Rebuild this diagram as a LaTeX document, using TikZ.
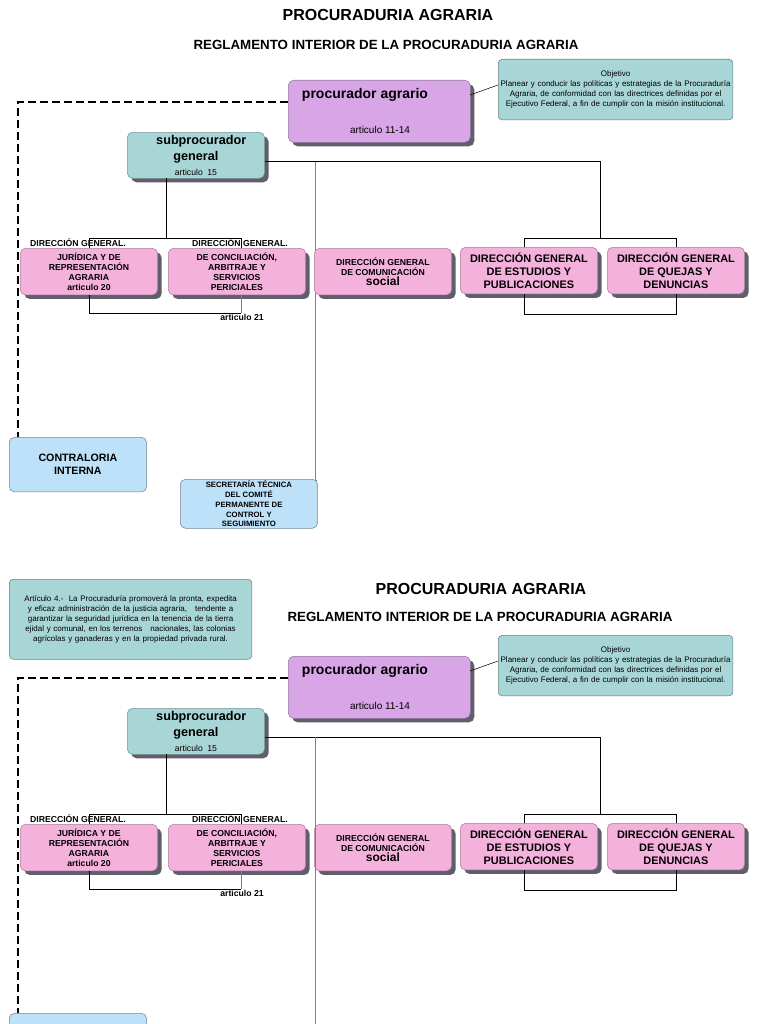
\documentclass[tikz,border=0pt]{standalone}
\usepackage{fontspec}
\setmainfont{Liberation Sans}
\usetikzlibrary{shadows}
\definecolor{lila}{HTML}{D8A6E6}
\definecolor{rosa}{HTML}{F3B1DB}
\definecolor{turq}{HTML}{A8D5D5}
\definecolor{celeste}{HTML}{BDE1F8}
\definecolor{sombra}{HTML}{5F5E6C}
\begin{document}
\begin{tikzpicture}[x=0.75pt,y=-0.75pt]
  \tikzstyle{caja}=[rectangle,rounded corners=4pt,anchor=north west,align=center,inner sep=1pt,
      drop shadow={shadow xshift=3pt,shadow yshift=-3pt,fill=sombra,opacity=1}]
  \tikzstyle{jefe}=[caja,draw=lila!70!black,fill=lila,minimum width=136.5pt,minimum height=46.5pt]
  \tikzstyle{dir}=[caja,draw=rosa!70!black,fill=rosa,minimum width=103pt,minimum height=35pt,font=\bfseries\fontsize{6.5}{7.5}\selectfont]
  \tikzstyle{sub}=[caja,draw=turq!70!black,fill=turq,minimum width=103pt,minimum height=34.5pt]
  \tikzstyle{nota}=[rectangle,rounded corners=3pt,anchor=north west,align=center,draw=turq!60!black,fill=turq,inner sep=1pt,font=\fontsize{6}{7.6}\selectfont,execute at begin node={\hyphenpenalty=10000}]
  \tikzstyle{ctrl}=[rectangle,rounded corners=4pt,anchor=north west,align=center,draw=celeste!60!black,fill=celeste,minimum width=103pt,inner sep=1pt]
  \tikzstyle{linea}=[draw,thin]
  \useasboundingbox (0,0) rectangle (768,1024);
  \fill[white] (0,0) rectangle (768,1024);
  % titulos
  \node[font=\bfseries\fontsize{12}{14}\selectfont] (tit1) at (388,15) {PROCURADURIA AGRARIA};
  \node[font=\bfseries\fontsize{10}{12}\selectfont] (reg1) at (386,45) {REGLAMENTO INTERIOR DE LA PROCURADURIA AGRARIA};
  \node[font=\bfseries\fontsize{12}{14}\selectfont] (tit2) at (481,589) {PROCURADURIA AGRARIA};
  \node[font=\bfseries\fontsize{10}{12}\selectfont] (reg2) at (480,617) {REGLAMENTO INTERIOR DE LA PROCURADURIA AGRARIA};
  \node[nota,minimum width=181.5pt,minimum height=60pt,text width=180pt] (art4) at (9,579)
    {Artículo 4.-\ \ La Procuraduría promoverá la pronta, expedita y eficaz administración de la justicia agraria,\ \ \ tendente a garantizar la seguridad jurídica en la tenencia de la tierra ejidal y comunal, en los terrenos\ \ \ nacionales, las colonias agrícolas y ganaderas y en la propiedad privada rural.};
  \foreach \dy/\c in {0/a,576/b}{
    \begin{scope}[yshift=-0.75*\dy pt]
      % lineas de fondo
      \coordinate (v\c1) at (315,161);
      \draw[gray,thin] (v\c1) -- (315,480) -- (317,480);
      \node[jefe] (proc\c) at (288,80) {};
      \node[font=\bfseries\fontsize{10.5}{12}\selectfont] at (365,95) {procurador agrario};
      \node[font=\fontsize{7.5}{9}\selectfont] at (380,130) {articulo 11-14};
      \node[nota,minimum width=175.5pt,minimum height=45.5pt,text width=174pt] (obj\c) at (498,59)
        {Objetivo\\Planear y conducir las políticas y estrategias de la Procuraduría Agraria, de conformidad con las directrices definidas por el Ejecutivo Federal, a fin de cumplir con la misión institucional.};
      \draw[linea] (470,95) -- (obj\c.west|-0,85);
      \draw[line width=1.6pt,dash pattern=on 6pt off 3pt] (288,102) -- (18,102) -- (18,437);
      \node[sub,text width=100pt] (sp\c) at (127,132)
        {\hspace*{8pt}{\bfseries\fontsize{9.5}{11}\selectfont subprocurador\\general}\\[-1pt]{\fontsize{6.5}{8}\selectfont articulo 15}};
      \draw[linea] (sp\c.east|-0,161) -- (600,161) -- (600,238);
      \draw[linea] (166,178) -- (166,238);
      \draw[linea] (89,248) -- (89,238) -- (241,238) -- (241,248);
      \draw[linea] (524,247) -- (524,238) -- (676,238) -- (676,247);
      \node[dir] (jur\c) at (20,248) {JURÍDICA Y DE\\REPRESENTACIÓN\\AGRARIA\\articulo 20};
      \node[dir] (con\c) at (168,248) {DE CONCILIACIÓN,\\ARBITRAJE Y\\SERVICIOS\\PERICIALES};
      \node[dir] (com\c) at (314,248) {DIRECCIÓN GENERAL\\DE COMUNICACIÓN\\{\fontsize{9}{11}\selectfont social}};
      \node[dir,font=\bfseries\fontsize{8.2}{9.5}\selectfont] (est\c) at (460,247) {DIRECCIÓN GENERAL\\DE ESTUDIOS Y\\PUBLICACIONES};
      \node[dir,font=\bfseries\fontsize{8.2}{9.5}\selectfont] (que\c) at (607,247) {DIRECCIÓN GENERAL\\DE QUEJAS Y\\DENUNCIAS};
      \node[font=\bfseries\fontsize{6.5}{8}\selectfont] at (78,243) {DIRECCIÓN GENERAL.};
      \node[font=\bfseries\fontsize{6.5}{8}\selectfont] at (240,243) {DIRECCIÓN GENERAL.};
      \draw[linea] (89,295) -- (89,313) -- (241,313);
      \draw[gray,thin] (241,313) -- (241,295);
      \draw[linea] (524,294) -- (524,314) -- (676,314) -- (676,294);
      \node[font=\bfseries\fontsize{6.5}{8}\selectfont] (a21\c) at (242,317) {articulo 21};
    \end{scope}
  }
  % partes bajas
  \node[ctrl,minimum height=41pt,font=\bfseries\fontsize{8}{9.5}\selectfont] (conta) at (9,437) {CONTRALORIA\\INTERNA};
  \node[ctrl,minimum height=34.5pt,font=\bfseries\fontsize{5.8}{7.4}\selectfont] (seca) at (180,479) {SECRETARÍA TÉCNICA\\DEL COMITÉ\\PERMANENTE DE\\CONTROL Y\\SEGUIMIENTO};
  \node[ctrl,minimum height=41pt] (contb) at (9,1013) {};
  \draw[gray,thin] (315,737) -- (315,1024);
\end{tikzpicture}
\end{document}
